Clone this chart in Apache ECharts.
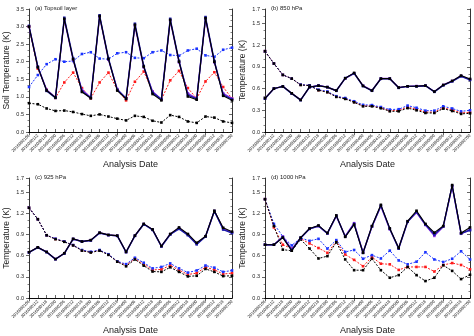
<!DOCTYPE html>
<html>
<head>
<meta charset="utf-8">
<script src="https://cdn.jsdelivr.net/npm/echarts@6/dist/echarts.min.js"></script>
<style>
  html, body { margin: 0; padding: 0; background: #fff; }
  #chart { width: 474px; height: 336px; }
</style>
</head>
<body>
<div id="chart"></div>
<script>
// Analysis times (6-hourly)
const dates = [
  "2016080106", "2016080112", "2016080118", "2016080200",
  "2016080206", "2016080212", "2016080218", "2016080300",
  "2016080306", "2016080312", "2016080318", "2016080400",
  "2016080406", "2016080412", "2016080418", "2016080500",
  "2016080506", "2016080512", "2016080518", "2016080600",
  "2016080606", "2016080612", "2016080618", "2016080700"
];

const panelTitles = ["(a) Topsoil layer", "(b) 850 hPa", "(c) 925 hPa", "(d) 1000 hPa"];
const yTitles = ["Soil Temperature (K)", "Temperature (K)", "Temperature (K)", "Temperature (K)"];

// (a) Topsoil layer
const aSolidBlack  = [3.00,1.84,1.18,0.98,3.22,2.07,1.14,0.96,3.30,2.08,1.18,0.94,3.05,1.86,1.08,0.90,3.19,2.00,1.01,0.92,3.24,2.00,1.03,0.90];
const aSolidBlue   = [3.02,1.86,1.17,0.97,3.25,2.10,1.16,0.97,3.32,2.10,1.20,0.96,3.08,1.88,1.12,0.93,3.22,2.02,1.05,0.94,3.27,2.02,1.06,0.93];
const aSolidPurple = [3.00,1.85,1.20,0.99,3.20,2.05,1.20,0.98,3.28,2.06,1.22,0.95,3.02,1.84,1.15,0.93,3.17,1.98,1.10,0.95,3.22,1.98,1.10,0.95];
const aDotBlack    = [0.82,0.79,0.67,0.60,0.61,0.57,0.51,0.46,0.50,0.44,0.38,0.33,0.46,0.43,0.32,0.27,0.48,0.43,0.30,0.26,0.44,0.41,0.30,0.26];
const aDotBlue     = [1.28,1.62,1.93,2.07,2.00,2.02,2.22,2.27,2.09,2.07,2.24,2.27,2.11,2.10,2.27,2.32,2.19,2.17,2.32,2.37,2.18,2.14,2.34,2.40];
const aDotRed      = [3.00,1.80,1.20,0.97,1.41,1.69,1.25,0.96,1.41,1.69,1.20,0.90,1.43,1.72,1.15,0.92,1.47,1.74,1.25,0.95,1.44,1.70,1.28,0.95];

// (b) 850 hPa
const bSolidBlack  = [0.466,0.600,0.630,0.535,0.443,0.623,0.640,0.620,0.572,0.743,0.817,0.637,0.572,0.738,0.738,0.614,0.632,0.632,0.641,0.558,0.650,0.706,0.780,0.734];
const bSolidBlue   = [0.460,0.600,0.630,0.530,0.440,0.620,0.640,0.620,0.570,0.745,0.810,0.635,0.570,0.735,0.735,0.610,0.630,0.630,0.640,0.555,0.645,0.700,0.770,0.720];
const bSolidPurple = [0.465,0.600,0.630,0.535,0.445,0.620,0.645,0.620,0.570,0.740,0.810,0.640,0.575,0.740,0.740,0.615,0.630,0.635,0.640,0.560,0.650,0.705,0.775,0.725];
const bDotBlack    = [1.117,0.946,0.789,0.738,0.650,0.641,0.577,0.549,0.485,0.457,0.410,0.355,0.355,0.328,0.286,0.286,0.330,0.300,0.263,0.263,0.323,0.290,0.250,0.258];
const bDotBlue     = [1.117,0.946,0.789,0.738,0.655,0.645,0.585,0.560,0.495,0.470,0.425,0.375,0.372,0.345,0.310,0.315,0.365,0.335,0.295,0.295,0.355,0.325,0.285,0.300];
const bDotRed      = [1.117,0.946,0.789,0.738,0.652,0.643,0.580,0.553,0.490,0.462,0.415,0.362,0.362,0.335,0.295,0.297,0.345,0.315,0.275,0.275,0.335,0.305,0.265,0.270];

// (c) 925 hPa
const cSolidBlack  = [0.648,0.718,0.653,0.551,0.634,0.838,0.800,0.820,0.926,0.894,0.884,0.653,0.884,1.050,0.972,0.736,0.907,1.000,0.907,0.782,0.875,1.236,0.995,0.940];
const cSolidBlue   = [0.645,0.715,0.650,0.550,0.630,0.835,0.800,0.815,0.920,0.890,0.880,0.650,0.880,1.045,0.965,0.730,0.900,0.980,0.890,0.760,0.870,1.230,0.970,0.920];
const cSolidPurple = [0.648,0.718,0.652,0.551,0.633,0.836,0.800,0.818,0.924,0.892,0.882,0.652,0.882,1.048,0.968,0.733,0.904,0.990,0.900,0.770,0.872,1.233,0.980,0.930];
const cDotBlack    = [1.278,1.116,0.889,0.833,0.796,0.745,0.671,0.644,0.671,0.611,0.514,0.449,0.546,0.458,0.375,0.370,0.435,0.370,0.306,0.315,0.412,0.370,0.310,0.315];
const cDotBlue     = [1.278,1.116,0.889,0.840,0.800,0.750,0.680,0.655,0.680,0.620,0.520,0.480,0.570,0.500,0.420,0.440,0.490,0.420,0.360,0.390,0.460,0.430,0.370,0.390];
const cDotRed      = [1.278,1.116,0.889,0.836,0.798,0.748,0.675,0.650,0.676,0.615,0.517,0.465,0.558,0.480,0.398,0.405,0.462,0.395,0.333,0.352,0.436,0.400,0.340,0.352];

// (d) 1000 hPa
const dSolidBlack  = [0.755,0.755,0.856,0.670,0.856,0.986,1.028,0.920,1.170,0.866,1.040,0.640,1.020,1.320,0.986,0.708,1.088,1.236,1.050,0.926,1.020,1.600,0.920,1.000];
const dSolidBlue   = [0.755,0.755,0.860,0.680,0.850,0.980,1.020,0.915,1.165,0.870,1.050,0.640,1.015,1.310,0.980,0.700,1.080,1.220,1.040,0.900,1.015,1.590,0.915,0.960];
const dSolidPurple = [0.755,0.755,0.870,0.690,0.850,0.980,1.020,0.915,1.160,0.875,1.060,0.645,1.010,1.300,0.975,0.705,1.080,1.210,1.035,0.880,1.010,1.580,0.910,0.970];
const dDotBlack    = [1.400,1.020,0.685,0.670,0.830,0.700,0.560,0.593,0.790,0.546,0.394,0.394,0.556,0.394,0.287,0.324,0.440,0.324,0.240,0.287,0.463,0.384,0.268,0.329];
const dDotBlue     = [1.400,1.050,0.870,0.745,0.850,0.810,0.838,0.700,0.820,0.653,0.680,0.556,0.607,0.560,0.671,0.532,0.477,0.514,0.648,0.546,0.510,0.556,0.662,0.546];
const dDotRed      = [1.400,1.000,0.755,0.700,0.840,0.773,0.708,0.640,0.800,0.616,0.540,0.450,0.580,0.486,0.477,0.398,0.440,0.440,0.440,0.375,0.468,0.495,0.468,0.407];

const panels = [
  { solid: [aSolidPurple, aSolidBlue, aSolidBlack], dotted: [aDotRed, aDotBlue, aDotBlack], yMax: 3.5, yStep: 0.5 },
  { solid: [bSolidPurple, bSolidBlue, bSolidBlack], dotted: [bDotRed, bDotBlue, bDotBlack], yMax: 1.7, yStep: 0.3 },
  { solid: [cSolidPurple, cSolidBlue, cSolidBlack], dotted: [cDotRed, cDotBlue, cDotBlack], yMax: 1.7, yStep: 0.3 },
  { solid: [dSolidPurple, dSolidBlue, dSolidBlack], dotted: [dDotRed, dDotBlue, dDotBlack], yMax: 1.7, yStep: 0.3 }
];

const FONT = "Liberation Sans, Arial, sans-serif";
const solidColors = ["#8a2be2", "#1a1aa8", "#000000"];
const dottedColors = ["#ff1a1a", "#1a33ff", "#000000"];

const grids = [
  { left: 29,  top: 9,   width: 203, height: 123 },
  { left: 265, top: 9,   width: 205, height: 123 },
  { left: 29,  top: 178, width: 203, height: 122 },
  { left: 265, top: 178, width: 205, height: 122 }
];

const option = {
  animation: false,
  backgroundColor: "#fff",
  textStyle: { fontFamily: FONT },
  title: panelTitles.map((t, i) => ({
    text: t,
    left: grids[i].left + 1,
    top: grids[i].top - 9,
    textStyle: { fontSize: 6, fontWeight: "normal", color: "#222", fontFamily: FONT }
  })),
  grid: grids.map(g => Object.assign({ containLabel: false }, g)),
  xAxis: [],
  yAxis: [],
  series: []
};

panels.forEach((p, i) => {
  // bottom category axis with the dates
  option.xAxis.push({
    type: "category",
    gridIndex: i,
    data: dates,
    boundaryGap: false,
    name: "Analysis Date",
    nameLocation: "middle",
    nameGap: 28,
    nameTextStyle: { fontSize: 9, color: "#222", fontFamily: FONT },
    axisLine: { lineStyle: { color: "#000", width: 0.8 } },
    axisTick: { show: true, inside: true, length: 3, lineStyle: { color: "#000", width: 0.6 } },
    axisLabel: { rotate: 45, fontSize: 4.2, color: "#222", margin: 3, interval: 0, fontFamily: FONT },
    splitLine: { show: false }
  });
  // top mirror axis
  option.xAxis.push({
    type: "category",
    gridIndex: i,
    position: "top",
    data: dates,
    boundaryGap: false,
    axisLine: { lineStyle: { color: "#000", width: 0.8 } },
    axisTick: { show: true, inside: true, length: 3, lineStyle: { color: "#000", width: 0.6 } },
    axisLabel: { show: false },
    splitLine: { show: false }
  });
  // left value axis
  option.yAxis.push({
    type: "value",
    gridIndex: i,
    min: 0,
    max: p.yMax,
    interval: p.yStep,
    name: yTitles[i],
    nameLocation: "middle",
    nameRotate: 90,
    nameGap: 18,
    nameTextStyle: { fontSize: 8.5, color: "#222", fontFamily: FONT },
    axisLine: { show: true, lineStyle: { color: "#000", width: 0.8 } },
    axisTick: { show: true, length: 3, lineStyle: { color: "#000", width: 0.6 } },
    minorTick: { show: true, splitNumber: 3, length: 1.5, lineStyle: { color: "#000", width: 0.5 } },
    axisLabel: { fontSize: 5.5, color: "#222", margin: 5, fontFamily: FONT, formatter: v => v.toFixed(1) },
    splitLine: { show: false }
  });
  // right mirror axis
  option.yAxis.push({
    type: "value",
    gridIndex: i,
    position: "right",
    min: 0,
    max: p.yMax,
    interval: p.yStep,
    axisLine: { show: true, lineStyle: { color: "#000", width: 0.8 } },
    axisTick: { show: true, inside: true, length: 3, lineStyle: { color: "#000", width: 0.6 } },
    minorTick: { show: true, splitNumber: 3, length: 1.5, lineStyle: { color: "#000", width: 0.5 } },
    axisLabel: { show: false },
    splitLine: { show: false }
  });

  const xi = i * 2;
  const yi = i * 2;

  p.dotted.forEach((d, k) => {
    option.series.push({
      type: "line",
      xAxisIndex: xi,
      yAxisIndex: yi,
      data: d,
      symbol: "rect",
      symbolSize: 2.6,
      itemStyle: { color: dottedColors[k] },
      lineStyle: { color: dottedColors[k], width: 1, type: [2, 1.5] },
      z: 2 + k
    });
  });
  p.solid.forEach((d, k) => {
    option.series.push({
      type: "line",
      xAxisIndex: xi,
      yAxisIndex: yi,
      data: d,
      symbol: "rect",
      symbolSize: 2.6,
      itemStyle: { color: solidColors[k] },
      lineStyle: { color: solidColors[k], width: k === 2 ? 1.1 : 1.4 },
      z: 6 + k
    });
  });
});

const chart = echarts.init(document.getElementById("chart"), null, { renderer: "canvas" });
chart.setOption(option);
</script>
</body>
</html>
